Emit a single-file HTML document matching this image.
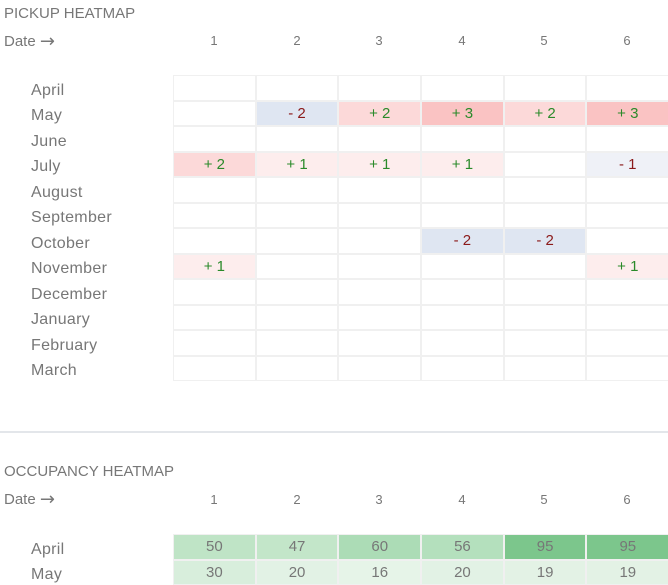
<!DOCTYPE html>
<html><head><meta charset="utf-8"><style>
body{margin:0;width:668px;height:580px;overflow:hidden;background:#fff;font-family:"Liberation Sans",sans-serif;color:#666;position:relative}
.t{position:absolute;left:4px;font-size:15px;color:#777}
.d{position:absolute;left:4px;font-size:15px;color:#777}
.d span{font-size:18px;font-family:"DejaVu Sans",sans-serif;position:relative;top:1px}
.h{position:absolute;font-size:13px;color:#777;width:82px;text-align:center}
.m{position:absolute;left:31px;font-size:16px;color:#777;letter-spacing:0.3px}
.g{position:absolute;left:173px;display:grid;grid-template-columns:repeat(6,80.7px);gap:2px;background:#f0f0f0;padding:1px}
.g div{background:#fff;height:23.5px;line-height:24px;text-align:center;font-size:15px}
.p{color:#2a8a2a}.n{color:#8b1a1a}
.o div{color:#777;font-size:15px}
</style></head><body>
<div class="t" style="top:5px">PICKUP HEATMAP</div>
<div class="d" style="top:30px">Date <span>→</span></div>
<div class="h" style="left:173px;top:33px">1</div><div class="h" style="left:256px;top:33px">2</div><div class="h" style="left:338px;top:33px">3</div><div class="h" style="left:421px;top:33px">4</div><div class="h" style="left:503px;top:33px">5</div><div class="h" style="left:586px;top:33px">6</div>
<div class="m" style="top:82px">April</div>
<div class="m" style="top:107px">May</div>
<div class="m" style="top:133px">June</div>
<div class="m" style="top:158px">July</div>
<div class="m" style="top:184px">August</div>
<div class="m" style="top:209px">September</div>
<div class="m" style="top:235px">October</div>
<div class="m" style="top:260px">November</div>
<div class="m" style="top:286px">December</div>
<div class="m" style="top:311px">January</div>
<div class="m" style="top:337px">February</div>
<div class="m" style="top:362px">March</div>
<div class="g" style="top:75px">
<div></div><div></div><div></div><div></div><div></div><div></div>
<div></div><div class="n" style="background:#dfe6f2">- 2</div><div class="p" style="background:#fcd9d9">+ 2</div><div class="p" style="background:#fac3c3">+ 3</div><div class="p" style="background:#fcd9d9">+ 2</div><div class="p" style="background:#fac3c3">+ 3</div>
<div></div><div></div><div></div><div></div><div></div><div></div>
<div class="p" style="background:#fcd9d9">+ 2</div><div class="p" style="background:#fdeded">+ 1</div><div class="p" style="background:#fdeded">+ 1</div><div class="p" style="background:#fdeded">+ 1</div><div></div><div class="n" style="background:#eff1f7">- 1</div>
<div></div><div></div><div></div><div></div><div></div><div></div>
<div></div><div></div><div></div><div></div><div></div><div></div>
<div></div><div></div><div></div><div class="n" style="background:#dfe6f2">- 2</div><div class="n" style="background:#dfe6f2">- 2</div><div></div>
<div class="p" style="background:#fdeded">+ 1</div><div></div><div></div><div></div><div></div><div class="p" style="background:#fdeded">+ 1</div>
<div></div><div></div><div></div><div></div><div></div><div></div>
<div></div><div></div><div></div><div></div><div></div><div></div>
<div></div><div></div><div></div><div></div><div></div><div></div>
<div></div><div></div><div></div><div></div><div></div><div></div>
</div>
<div style="position:absolute;left:0;top:431px;width:668px;height:2px;background:#e3e6ea"></div>
<div class="t" style="top:463px">OCCUPANCY HEATMAP</div>
<div class="d" style="top:488px">Date <span>→</span></div>
<div class="h" style="left:173px;top:492px">1</div><div class="h" style="left:256px;top:492px">2</div><div class="h" style="left:338px;top:492px">3</div><div class="h" style="left:421px;top:492px">4</div><div class="h" style="left:503px;top:492px">5</div><div class="h" style="left:586px;top:492px">6</div>
<div class="m" style="top:541px">April</div>
<div class="m" style="top:566px">May</div>
<div class="g o" style="top:534px">
<div style="background:#bfe4c6">50</div><div style="background:#c3e6c9">47</div><div style="background:#acdcb6">60</div><div style="background:#b4e0bd">56</div><div style="background:#7cc68c">95</div><div style="background:#7cc68c">95</div>
<div style="background:#d8eedc">30</div><div style="background:#e2f2e5">20</div><div style="background:#e6f4e8">16</div><div style="background:#e2f2e5">20</div><div style="background:#e3f2e5">19</div><div style="background:#e3f2e5">19</div>
</div>
</body></html>
